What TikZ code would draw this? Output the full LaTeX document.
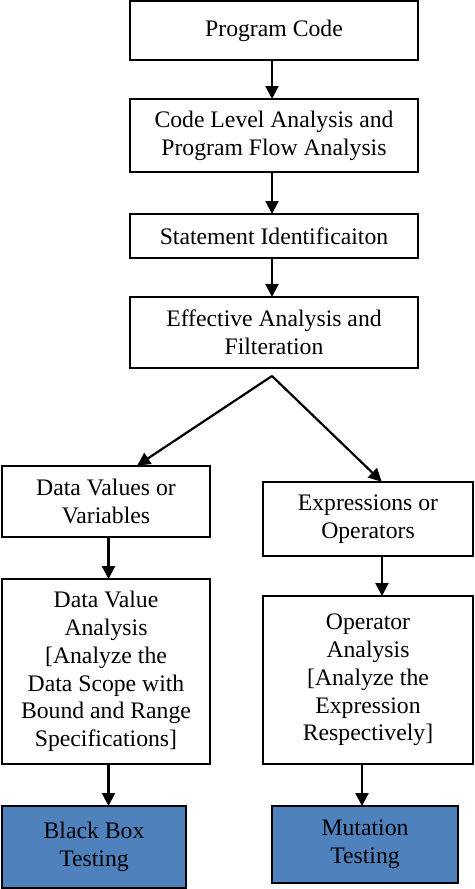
\documentclass[tikz,border=0pt]{standalone}
\usepackage{fontspec}
\setmainfont{Liberation Serif}
\usetikzlibrary{arrows.meta}
\definecolor{boxblue}{RGB}{79,129,189}
\begin{document}
\begin{tikzpicture}[x=1pt,y=1pt,
  box/.style={draw=black, line width=2pt, rectangle, inner sep=0pt, align=center,
    font=\fontsize{23.7}{27.8}\selectfont},
  bluebox/.style={box, fill=boxblue},
  arr/.style={line width=2.2pt, -{Triangle[length=13pt,width=13pt]}, shorten >=-1pt}]
\useasboundingbox (0,0) rectangle (474,-889);
\fill[white] (0,0) rectangle (474,-889);
\node[box, minimum width=288, minimum height=59] (pc) at (274,-30.5) {Program Code};
\node[box, minimum width=288, minimum height=73] (cla) at (274,-135.5) {Code Level Analysis and\\Program Flow Analysis};
\node[box, minimum width=288, minimum height=44] (si) at (274,-236) {Statement Identificaiton};
\node[box, minimum width=288, minimum height=71] (ea) at (274,-332.5) {Effective Analysis and\\Filteration};
\node[box, minimum width=208, minimum height=71] (dv) at (106,-501.5) {Data Values or\\Variables};
\node[box, minimum width=210, minimum height=74] (eo) at (368,-519) {Expressions or\\Operators};
\node[box, minimum width=208, minimum height=185] (dva) at (106,-671.5) {Data Value\\Analysis\\{[}Analyze the\\Data Scope with\\Bound and Range\\Specifications{]}};
\node[box, minimum width=210, minimum height=168] (oa) at (368,-680) {Operator\\Analysis\\{[}Analyze the\\Expression\\Respectively{]}};
\node[bluebox, minimum width=184, minimum height=82] (bb) at (94,-847) {Black Box\\Testing};
\node[bluebox, minimum width=186, minimum height=77] (mt) at (365,-844.5) {Mutation\\Testing};
\coordinate (split) at (272,-376);
\draw[arr] (pc.south -| split) -- (cla.north -| split);
\draw[arr] (cla.south -| split) -- (si.north -| split);
\draw[arr] (si.south -| split) -- (ea.north -| split);
\draw[arr] (split) -- ([xshift=32pt]dv.north);
\draw[arr] (split) -- ([xshift=13pt]eo.north);
\draw[arr] ([xshift=2.5pt]dv.south) -- ([xshift=2.5pt]dva.north);
\draw[arr] ([xshift=14pt]eo.south) -- ([xshift=14pt]oa.north);
\draw[arr] ([xshift=2.5pt]dva.south) -- ([xshift=2.5pt]dva.south |- bb.north);
\draw[arr] ([xshift=-6pt]oa.south) -- ([xshift=-6pt]oa.south |- mt.north);
\end{tikzpicture}
\end{document}
